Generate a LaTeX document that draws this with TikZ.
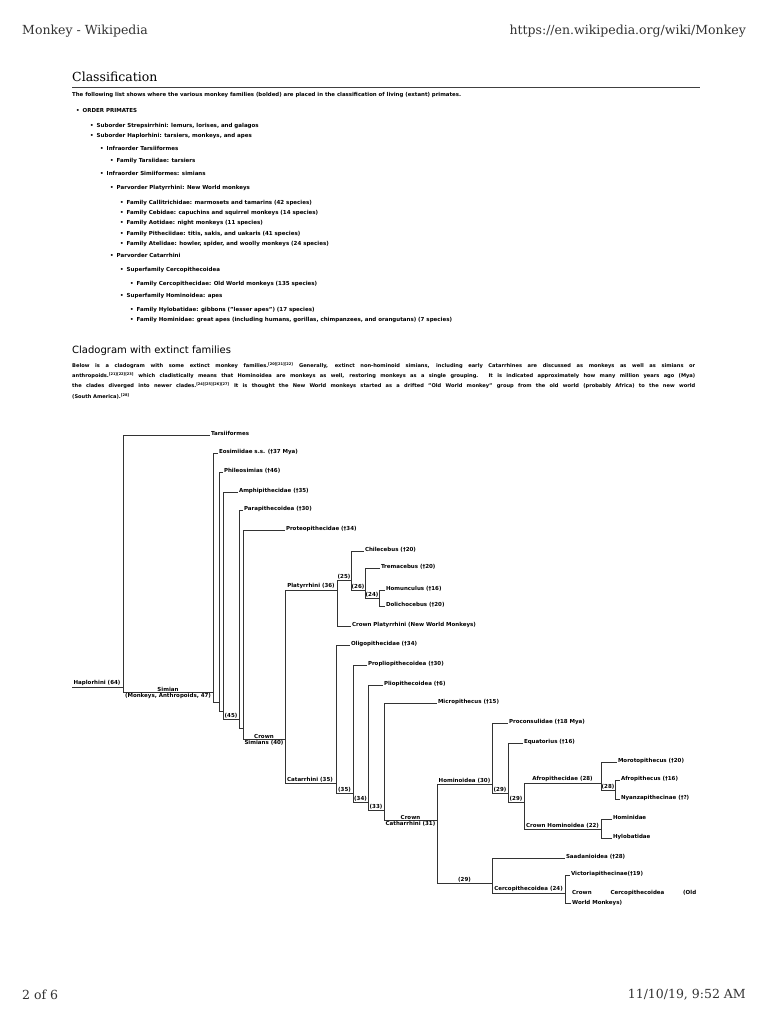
\documentclass[tikz,border=0pt]{standalone}
\usepackage{fontspec}
\setmainfont{DejaVu Sans}
\newfontfamily\pageserif{DejaVu Serif}
\usetikzlibrary{positioning,calc}

\newcommand{\tinybf}{\fontsize{5.5}{6.5}\selectfont\bfseries}
\newcommand{\parline}[1]{\hbox to 623pt{#1}}

\begin{document}
\begin{tikzpicture}[
    x=1pt, y=-1pt,
    every node/.style = {inner sep=0pt},
    pagetxt/.style = {font=\pageserif\fontsize{12.5}{14}\selectfont, text=black!80},
    item/.style = {anchor=west, font=\tinybf},
    partxt/.style = {anchor=west, font=\fontsize{5.1}{6}\selectfont\bfseries},
    leaf/.style = {anchor=base west, inner sep=0.8pt, font=\tinybf},
    clade/.style = {above=0.7pt, font=\tinybf},
    cladeb/.style = {below=0.7pt, font=\tinybf},
    branch/.style = {draw=black!80, line width=0.8pt}
]
    \fill[white] (0,0) rectangle (768,1024);
    \useasboundingbox (0,0) rectangle (768,1024);

    % Page header and footer
    \node [pagetxt, anchor=west] (title) at (22,31) {Monkey - Wikipedia};
    \node [pagetxt, anchor=east] (url) at (746,31) {https://en.wikipedia.org/wiki/Monkey};
    \node [pagetxt, anchor=west] (page) at (22,995) {2 of 6};
    \node [pagetxt, anchor=east] (date) at (746,995) {11/10/19, 9:52 AM};

    % Classification list
    \node [anchor=west, font=\pageserif\fontsize{12.5}{14}\selectfont] (classhead) at (72,77) {Classification};
    \coordinate (ruleL) at (72,87);
    \coordinate (ruleR) at (700,87);
    \draw [black!75, line width=0.8pt] (ruleL) -- (ruleR);
    \node [partxt, font=\fontsize{5.4}{6}\selectfont\bfseries] (intro) at (72,95) {The following list shows where the various monkey families (bolded) are placed in the classification of living (extant) primates.};

    \node [item] (primates) at (76,111) {•\hspace{3pt}ORDER PRIMATES};
    \node [item] (strep) at (90,126) {•\hspace{3pt}Suborder Strepsirrhini: lemurs, lorises, and galagos};
    \node [item] (haplo) at (90,136) {•\hspace{3pt}Suborder Haplorhini: tarsiers, monkeys, and apes};
    \node [item] (tarsio) at (100,148) {•\hspace{3pt}Infraorder Tarsiiformes};
    \node [item] (tarsid) at (110,161) {•\hspace{3pt}Family Tarsiidae: tarsiers};
    \node [item] (simio) at (100,173) {•\hspace{3pt}Infraorder Simiiformes: simians};
    \node [item] (platyo) at (110,188) {•\hspace{3pt}Parvorder Platyrrhini: New World monkeys};
    \node [item] (calli) at (120,203) {•\hspace{3pt}Family Callitrichidae: marmosets and tamarins (42 species)};
    \node [item] (cebi) at (120,213) {•\hspace{3pt}Family Cebidae: capuchins and squirrel monkeys (14 species)};
    \node [item] (aoti) at (120,223) {•\hspace{3pt}Family Aotidae: night monkeys (11 species)};
    \node [item] (pithe) at (120,234) {•\hspace{3pt}Family Pitheciidae: titis, sakis, and uakaris (41 species)};
    \node [item] (ateli) at (120,244) {•\hspace{3pt}Family Atelidae: howler, spider, and woolly monkeys (24 species)};
    \node [item] (cataro) at (110,255) {•\hspace{3pt}Parvorder Catarrhini};
    \node [item] (cercsup) at (120,270) {•\hspace{3pt}Superfamily Cercopithecoidea};
    \node [item] (cercfam) at (130,284) {•\hspace{3pt}Family Cercopithecidae: Old World monkeys (135 species)};
    \node [item] (hominsup) at (120,296) {•\hspace{3pt}Superfamily Hominoidea: apes};
    \node [item] (hylofam) at (130,310) {•\hspace{3pt}Family Hylobatidae: gibbons ("lesser apes") (17 species)};
    \node [item] (hominfam) at (130,320) {•\hspace{3pt}Family Hominidae: great apes (including humans, gorillas, chimpanzees, and orangutans) (7 species)};

    % Cladogram text
    \node [anchor=west, font=\fontsize{10}{12}\selectfont] (cladohead) at (72,351) {Cladogram with extinct families};
    \node [partxt] (par1) at (72,366) {\parline{Below is a cladogram with some extinct monkey families.\textsuperscript{[20][21][22]} Generally, extinct non-hominoid simians, including early Catarrhines are discussed as monkeys as well as simians or}};
    \node [partxt] (par2) at (72,376) {\parline{anthropoids.\textsuperscript{[21][22][23]} which cladistically means that Hominoidea are monkeys as well, restoring monkeys as a single grouping. It is indicated approximately how many million years ago (Mya)}};
    \node [partxt] (par3) at (72,386) {\parline{the clades diverged into newer clades.\textsuperscript{[24][25][26][27]} It is thought the New World monkeys started as a drifted "Old World monkey" group from the old world (probably Africa) to the new world}};
    \node [partxt] (par4) at (72,396) {(South America).\textsuperscript{[28]}};

    % Junctions
    \coordinate (root) at (72,687);
    \coordinate (hap) at (123,687);
    \coordinate (sim) at (213,692);
    \coordinate (s1) at (219,702);
    \coordinate (s2) at (223,711);
    \coordinate (s45) at (239,719);
    \coordinate (s3) at (243,728);
    \coordinate (crsim) at (285,739);
    \coordinate (platy) at (337,590);
    \coordinate (p25) at (351,580);
    \coordinate (p26) at (365,590);
    \coordinate (p24) at (379,598);
    \coordinate (catar) at (336,783);
    \coordinate (c35) at (353,793);
    \coordinate (c34) at (368,802);
    \coordinate (c33) at (384,810);
    \coordinate (crcat) at (437,820);
    \coordinate (homoid) at (492,784);
    \coordinate (h29a) at (508,793);
    \coordinate (h29b) at (524,802);
    \coordinate (afrid) at (601,783);
    \coordinate (a28) at (615,790);
    \coordinate (crhom) at (601,829);
    \coordinate (c29) at (492,883);
    \coordinate (cercoid) at (565,893);
    \coordinate (ccstub) at (571,903);

    % Leaves
    \node [leaf] (tars) at (210,435) {Tarsiiformes};
    \node [leaf] (eos) at (218,453) {Eosimiidae s.s. (†37 Mya)};
    \node [leaf] (phil) at (223,472) {Phileosimias (†46)};
    \node [leaf] (amph) at (238,492) {Amphipithecidae (†35)};
    \node [leaf] (para) at (243,510) {Parapithecoidea (†30)};
    \node [leaf] (prot) at (285,530) {Proteopithecidae (†34)};
    \node [leaf] (chil) at (364,551) {Chilecebus (†20)};
    \node [leaf] (trem) at (380,568) {Tremacebus (†20)};
    \node [leaf] (homu) at (385,590) {Homunculus (†16)};
    \node [leaf] (doli) at (385,606) {Dolichocebus (†20)};
    \node [leaf] (crpla) at (351,626) {Crown Platyrrhini (New World Monkeys)};
    \node [leaf] (olig) at (350,645) {Oligopithecidae (†34)};
    \node [leaf] (prop) at (367,665) {Propliopithecoidea (†30)};
    \node [leaf] (plio) at (383,685) {Pliopithecoidea (†6)};
    \node [leaf] (micro) at (437,703) {Micropithecus (†15)};
    \node [leaf] (proc) at (508,723) {Proconsulidae (†18 Mya)};
    \node [leaf] (equa) at (523,743) {Equatorius (†16)};
    \node [leaf] (moro) at (617,762) {Morotopithecus (†20)};
    \node [leaf] (afrp) at (620,780) {Afropithecus (†16)};
    \node [leaf] (nyan) at (620,799) {Nyanzapithecinae (†?)};
    \node [leaf] (homid) at (612,819) {Hominidae};
    \node [leaf] (hylo) at (612,838) {Hylobatidae};
    \node [leaf] (saad) at (565,858) {Saadanioidea (†28)};
    \node [leaf] (vict) at (570,875) {Victoriapithecinae(†19)};
    \node [anchor=north west, align=left, font=\fontsize{5.5}{10}\selectfont\bfseries] (crcer) at (572,890) {\hbox to 124pt{Crown Cercopithecoidea (Old}\\World Monkeys)};

    % Branches
    \draw [branch] (root) -- (hap);
    \draw [branch] (hap) |- (tars.base west);
    \draw [branch] (hap) |- (sim);
    \draw [branch] (sim) |- (eos.base west);
    \draw [branch] (sim) |- (s1);
    \draw [branch] (s1) |- (phil.base west);
    \draw [branch] (s1) |- (s2);
    \draw [branch] (s2) |- (amph.base west);
    \draw [branch] (s2) |- (s45);
    \draw [branch] (s45) |- (para.base west);
    \draw [branch] (s45) |- (s3);
    \draw [branch] (s3) |- (prot.base west);
    \draw [branch] (s3) |- (crsim);
    \draw [branch] (crsim) |- (platy);
    \draw [branch] (crsim) |- (catar);
    \draw [branch] (platy) |- (p25);
    \draw [branch] (platy) |- (crpla.base west);
    \draw [branch] (p25) |- (chil.base west);
    \draw [branch] (p25) |- (p26);
    \draw [branch] (p26) |- (trem.base west);
    \draw [branch] (p26) |- (p24);
    \draw [branch] (p24) |- (homu.base west);
    \draw [branch] (p24) |- (doli.base west);
    \draw [branch] (catar) |- (olig.base west);
    \draw [branch] (catar) |- (c35);
    \draw [branch] (c35) |- (prop.base west);
    \draw [branch] (c35) |- (c34);
    \draw [branch] (c34) |- (plio.base west);
    \draw [branch] (c34) |- (c33);
    \draw [branch] (c33) |- (micro.base west);
    \draw [branch] (c33) |- (crcat);
    \draw [branch] (crcat) |- (homoid);
    \draw [branch] (crcat) |- (c29);
    \draw [branch] (homoid) |- (proc.base west);
    \draw [branch] (homoid) |- (h29a);
    \draw [branch] (h29a) |- (equa.base west);
    \draw [branch] (h29a) |- (h29b);
    \draw [branch] (h29b) |- (afrid);
    \draw [branch] (h29b) |- (crhom);
    \draw [branch] (afrid) |- (moro.base west);
    \draw [branch] (afrid) |- (a28);
    \draw [branch] (a28) |- (afrp.base west);
    \draw [branch] (a28) |- (nyan.base west);
    \draw [branch] (crhom) |- (homid.base west);
    \draw [branch] (crhom) |- (hylo.base west);
    \draw [branch] (c29) |- (saad.base west);
    \draw [branch] (c29) |- (cercoid);
    \draw [branch] (cercoid) |- (vict.base west);
    \draw [branch] (cercoid) |- (ccstub);

    % Clade labels
    \node [clade] (haplab) at (97,687) {Haplorhini (64)};
    \node [clade] (simlab) at (168,692) {Simian};
    \node [cladeb] (simlabb) at (168,692) {(Monkeys, Anthropoids, 47)};
    \node [clade] (lab45) at (231,719) {(45)};
    \node [clade] (crsimlab) at (264,739) {Crown};
    \node [cladeb] (crsimlabb) at (264,739) {Simians (40)};
    \node [clade] (platylab) at (311,590) {Platyrrhini (36)};
    \node [clade] (lab25) at (344,580) {(25)};
    \node [clade] (lab26) at (358,590) {(26)};
    \node [clade] (lab24) at (372,598) {(24)};
    \node [clade] (catarlab) at (310,783) {Catarrhini (35)};
    \node [clade] (lab35) at (344.5,793) {(35)};
    \node [clade] (lab34) at (360.5,802) {(34)};
    \node [clade] (lab33) at (376,810) {(33)};
    \node [clade] (crcatlab) at (410.5,820) {Crown};
    \node [cladeb] (crcatlabb) at (410.5,820) {Catharrhini (31)};
    \node [clade] (homoidlab) at (464.5,784) {Hominoidea (30)};
    \node [clade] (lab29a) at (500,793) {(29)};
    \node [clade] (lab29b) at (516,802) {(29)};
    \node [clade] (afridlab) at (562.5,783) {Afropithecidae (28)};
    \node [clade] (lab28) at (608,790) {(28)};
    \node [clade] (crhomlab) at (562.5,829) {Crown Hominoidea (22)};
    \node [clade] (lab29c) at (464.5,883) {(29)};
    \node [clade] (cercoidlab) at (528.5,893) {Cercopithecoidea (24)};
\end{tikzpicture}
\end{document}
